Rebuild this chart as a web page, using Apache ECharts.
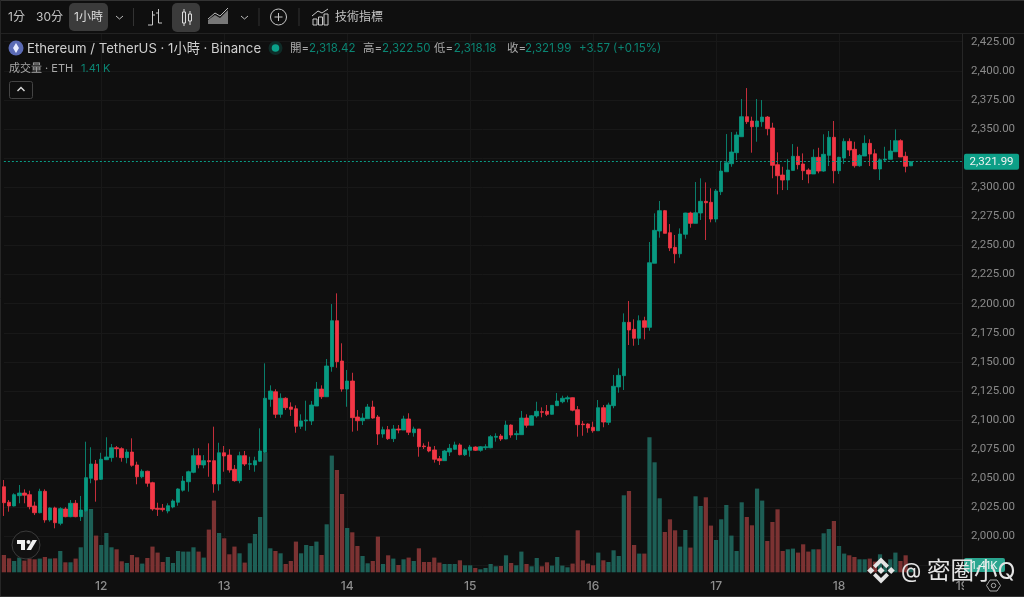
<!DOCTYPE html>
<html>
<head>
<meta charset="utf-8">
<style>html,body{margin:0;padding:0;background:#0f0f0f}#chart{width:1024px;height:597px}</style>
<script src="https://cdn.jsdelivr.net/npm/echarts@6/dist/echarts.min.js"></script>
</head>
<body>
<div id="chart"></div>
<script>
// 1小时K线，从图上读出来的估计值
var opens = [2042.8,2029.5,2026.3,2035.1,2037.4,2036,2026.3,2020.5,2038.9,2014.3,
2024.6,2011.4,2023.7,2017.1,2028.6,2017.1,2022.2,2050.1,2062.3,2049.2,
2066,2067.8,2076.3,2075.5,2067.8,2072.6,2061.5,2051.4,2056.1,2046.3,
2024.3,2024.3,2022,2025.4,2029.5,2039.8,2047.1,2055.2,2069.5,2061.5,
2065.2,2065.2,2045.2,2072,2070,2057.8,2048,2069.5,2062.1,2061.5,
2064.7,2072.6,2117.9,2124.4,2105,2118.8,2111.3,2109.8,2094.7,2099.3,
2099.3,2112.1,2126.7,2120.1,2145.9,2185.4,2150.8,2126.7,2133.6,2102.7,
2099.5,2101.2,2111.3,2102.7,2088.1,2091.8,2084.1,2092.4,2091.5,2101,
2089.2,2092.4,2077.8,2076.9,2074.4,2066.9,2065.2,2072.6,2075,2078.7,
2070.3,2074.1,2076.9,2074.1,2076.3,2076.3,2085.3,2086.4,2083.8,2095.8,
2087.5,2087.5,2101.8,2095.6,2103.6,2107.3,2107.6,2105,2112.4,2115.8,
2118.2,2119.3,2109,2096.7,2096.7,2093.9,2090.9,2110.7,2098.1,2112.4,
2128.5,2138.2,2184,2178,2170.3,2185.4,2179.7,2234.7,2262.4,2279.9,
2261,2248.4,2242.9,2259.6,2277.9,2269,2277.9,2287.9,2287.1,2272.7,
2296.2,2313.3,2320.2,2329.7,2343.4,2360.6,2356.9,2352,2356.3,2360.3,
2350.9,2319.4,2310.5,2306.2,2314.5,2326.6,2320,2314.8,2311.4,2325.7,
2313.9,2327.4,2342.9,2314.2,2325.1,2339.4,2332.6,2318.5,2326.8,2337.7,
2328.8,2315.7,2323.4,2324,2330.5,2340,2326.6,2318.42];
var closes = [2029.1,2026.3,2036,2037.4,2035.5,2025.7,2020.5,2038.9,2014.3,2024.6,
2011.9,2024,2017.1,2028.6,2017.1,2022.8,2050.6,2062.3,2048.6,2066.4,
2068.4,2076.3,2075.5,2067.8,2072.6,2061.2,2051.4,2056.1,2045.8,2023.7,
2023.4,2023.1,2026.5,2030.6,2040.9,2047.7,2055.7,2069.5,2061.7,2065.2,
2064.3,2045.2,2072,2069.2,2057.2,2048,2069.5,2062.3,2062.6,2065.2,
2073.5,2118.8,2125,2105,2118.8,2110.7,2109.3,2094.7,2099.3,2100.1,
2113,2126.7,2120.1,2146.5,2185.4,2150.2,2126.7,2133.6,2102.1,2099.5,
2101.8,2111.3,2101.8,2088.1,2091.8,2084.1,2092.4,2091.5,2101,2089.6,
2092.4,2077.2,2077.2,2073.5,2066.4,2065.2,2073.5,2075.8,2078.7,2070.3,
2074.6,2076.9,2074.1,2077.2,2077.2,2085.8,2086.1,2083.8,2095.8,2087.2,
2088.4,2101.8,2095.6,2103.8,2107.6,2106.7,2105,2112.7,2116.4,2118.8,
2119.3,2108.5,2096.1,2096.1,2093.3,2090.9,2110.7,2098.4,2113,2129.1,
2138.5,2184,2177.4,2170.3,2185.4,2179.7,2235.2,2263,2279.9,2260.4,
2247.8,2242.9,2259.8,2277.9,2269,2278.1,2287.9,2286.7,2272.7,2296.8,
2313.9,2321.1,2330.3,2344.9,2360.6,2356.3,2352,2356.9,2360.3,2350.3,
2318.8,2309.9,2306.2,2314.8,2326.6,2319.4,2314.2,2311.4,2325.7,2313.9,
2328.3,2342.9,2314.2,2325.7,2339.4,2332,2318.5,2327.4,2337.7,2328.5,
2315.7,2323.6,2324.2,2331.1,2340,2326,2318,2321.99];
var lows = [2017.7,2021.4,2026,2028.6,2028.6,2023.4,2018.5,2020,2011.9,2012.8,
2007.1,2009.7,2016.6,2016.6,2016.6,2013.4,2021.4,2045.8,2030,2048.6,
2065.8,2064.3,2068.1,2064.3,2062.9,2060,2044.9,2050.1,2042.8,2022.2,
2017.7,2021.4,2020,2024.3,2026.5,2038.6,2038.6,2054.4,2058.6,2058.6,
2051.4,2037.7,2039.4,2055.7,2054.9,2047.1,2045.8,2060.6,2057.2,2055.7,
2064.1,2071.8,2111.5,2101.8,2102.1,2108.7,2103.6,2089.2,2092.4,2090.9,
2095.8,2112.1,2118.2,2120.1,2141.6,2145,2124.4,2111.5,2090.1,2090.9,
2095.8,2101.2,2101.2,2078.7,2084.9,2083,2081.2,2088.7,2091.5,2087.2,
2085.8,2068.6,2075.2,2072.4,2063.5,2061.5,2065.2,2069.2,2074.4,2069.8,
2069.2,2068.6,2073.5,2072.9,2074.4,2075.8,2081.5,2082.1,2083.6,2084.9,
2083,2087.5,2093.5,2095.6,2102.1,2102.4,2103.6,2104.7,2112.4,2114.5,
2115.3,2107.6,2085.8,2086.6,2089.2,2089.2,2090.9,2093.9,2095.8,2110.2,
2123.6,2125.9,2164.5,2163.9,2164.5,2169.4,2176.8,2234.7,2256.7,2260.4,
2245.2,2234.7,2239.5,2255.8,2265.3,2269,2271.9,2254.7,2269.9,2269.9,
2293.3,2313.3,2317.6,2323.4,2343.4,2354.3,2329.7,2339.1,2352,2344.6,
2307.7,2293.9,2297.6,2297.6,2314.5,2315.4,2306.2,2303.4,2311.4,2312,
2313.3,2318.2,2303.4,2311.4,2320,2326.8,2316.8,2317.6,2326.8,2318.2,
2315.7,2306.2,2322.5,2324,2330.5,2326,2312.8,2318.18];
var highs = [2048.6,2031.4,2037.2,2044.3,2040.6,2039.4,2030,2041.1,2040.6,2025.2,
2025.7,2025.2,2025.2,2031.4,2031.4,2034.9,2081.5,2076.7,2065.8,2072,
2085.3,2079.5,2077.8,2076.7,2075,2084.4,2064.3,2057.8,2056.6,2047.1,
2029.1,2028,2028.6,2032,2041.5,2052,2056.6,2075.8,2075.8,2070,
2080.1,2094.4,2080.6,2077.8,2075,2061.5,2072.9,2073.5,2068.6,2068.6,
2093,2148.8,2129.9,2126.5,2123,2119.6,2115.3,2112.7,2105,2116.7,
2116.4,2132.8,2129.9,2152.5,2199.7,2208.9,2166,2143.1,2140.7,2108.7,
2105.9,2113.9,2116.7,2104.4,2094.4,2095,2095.8,2095.8,2103.8,2105.9,
2094.4,2092.4,2080.1,2081.5,2077.8,2069.2,2074.4,2079.5,2081.5,2080.1,
2075.8,2078.7,2077.5,2077.8,2079.3,2087.2,2088.7,2088.1,2099.5,2096.4,
2090.9,2107.9,2105,2104.4,2115.8,2111,2113,2113,2123.3,2121,
2121,2119.6,2112.1,2099.3,2097.3,2098.7,2117.3,2113,2115,2138.8,
2144.5,2191.7,2202.3,2186.6,2190,2188.8,2253,2277.6,2288.2,2280.5,
2268.4,2259,2264.7,2278.1,2279,2304.5,2307.7,2304.2,2299.1,2298.5,
2322.5,2345.7,2347.4,2347.7,2375.8,2385.2,2360.6,2375.8,2374.9,2361.2,
2355.4,2330,2317.6,2324.2,2337.1,2334.8,2329.1,2316.3,2332.6,2333.9,
2345.5,2348.3,2356.9,2326.2,2342,2342,2339.1,2328.5,2344.6,2341.2,
2332.6,2324.8,2334.8,2340.6,2349.7,2341.2,2330.5,2322.5];
// 成交量没有坐标轴，这里是相对高度
var volumes = [17.3,14,11.3,14.7,11.7,13.7,13,13.7,15.3,13.7,
14,21.3,10,10,13.7,25,61.7,63.3,36.7,27.3,
39.3,25,23,11,9.3,17.3,15,8.7,14.3,25.7,
19.7,10.3,15.3,9.3,21.3,20.7,20.7,25,20.7,14.7,
42.7,71.7,39.3,34,18,25.7,19,9.7,29,38.3,
55.3,120,24,21.3,19,8.3,11.3,30.7,19,27.3,
26.3,30.7,17.3,48,116.7,102.3,78.3,44.3,40,26.3,
16.3,9,11.3,35.7,8.3,17,13.7,7.3,13,14.7,
11.3,24,10.3,10.3,14.7,9.7,8.3,8.3,8.3,12,
7,7,4.3,3,4.3,8.3,6,6.3,17,9.3,
7,20.7,8.3,6,14.3,6,10,6.7,15.3,6.7,
5,8.7,42,12,8.7,7,19.7,12,10.3,22,
16.3,77,81.3,27.3,18.7,18.7,135,110,74,40.3,
53,42,25.7,42.3,24.7,76,66.3,75,46.7,32.3,
53,67.3,36.7,21.3,70,55.3,47,83.7,71.7,31.3,
50.3,63,21.3,23,23.7,19.7,28,20.7,23,23,
39,43.3,51.3,26.3,18.7,17,15.3,13,13,13.7,
10.7,18,9,13,19.7,11.3,17,4];
var dayLabels = ['12', '13', '14', '15', '16', '17', '18', '19'];
var firstDayIndex = 19;
var slotCount = 188;
var lastClose = 2321.99;
var hiddenTicks = [1975, 2325, 2450];

var upColor = '#089981';
var downColor = '#f23645';
var bg = '#0f0f0f';
var gridColor = '#181818';

// x轴类目：每天第一根K线带日期
var categories = [];
for (var i = 0; i < slotCount; i++) {
    var d = i - firstDayIndex;
    categories.push(d >= 0 && d % 24 == 0 ? dayLabels[d / 24] : '');
}
function isDay(index) {
    return categories[index] !== '';
}

var candleData = [];
var volumeData = [];
for (var j = 0; j < opens.length; j++) {
    candleData.push([opens[j], closes[j], lows[j], highs[j]]);
    volumeData.push({
        value: volumes[j],
        itemStyle: { color: closes[j] >= opens[j] ? '#1d5f56' : '#7b3232' }
    });
}

// 工具栏和图例这些界面元素
var font = 'Inter, "Noto Sans CJK TC", sans-serif';
function txt(x, y, s, color, size, align) {
    return {
        type: 'text', z: 20, x: x, y: y,
        style: { text: s, fill: color, font: size + 'px ' + font, textAlign: align || 'left', textVerticalAlign: 'middle' }
    };
}
function stroke(points, color, w) {
    return { type: 'polyline', z: 20, shape: { points: points }, style: { stroke: color || '#c8c8c8', lineWidth: w || 1, fill: null } };
}
function fillPoly(points, color) {
    return { type: 'polygon', z: 21, shape: { points: points }, style: { fill: color } };
}
function box(x, y, w, h, color, r, line) {
    return { type: 'rect', z: 20, shape: { x: x, y: y, width: w, height: h, r: r || 0 }, style: { fill: color, stroke: line || null, lineWidth: 1 } };
}
function circle(x, y, r, color, line) {
    return { type: 'circle', z: 20, shape: { cx: x, cy: y, r: r }, style: { fill: color, stroke: line || null, lineWidth: 1 } };
}
function diamond(cx, cy, r, color) {
    return fillPoly([[cx, cy - r], [cx + r, cy], [cx, cy + r], [cx - r, cy]], color);
}

var teal = '#0b8573';
var grey = '#a8a8a8';
var wm = '#e4e4e4';
var elements = [
    box(0, 0, 1024, 33, bg),
    stroke([[0, 33.5], [1024, 33.5]], '#222'),
    stroke([[0, 0.5], [1024, 0.5]], '#333'),
    stroke([[0.5, 0], [0.5, 597]], '#262626'),
    stroke([[0, 596.5], [1024, 596.5]], '#333'),
    box(964, 574, 60, 22, bg),
    // 工具栏
    txt(8, 17.5, '1分', '#c4c4c4', 12),
    txt(36, 17.5, '30分', '#c4c4c4', 12),
    box(69, 3, 39, 28, '#3b3b3b', 5),
    txt(88.5, 17.5, '1小時', '#dcdcdc', 12, 'center'),
    stroke([[116, 16], [119.5, 19], [123, 16]], '#bbb'),
    stroke([[133.5, 8], [133.5, 26]], '#333'),
    stroke([[152.5, 11], [152.5, 25], [148, 25]], '#c8c8c8'),
    stroke([[152.5, 15], [155, 15]], '#c8c8c8'),
    stroke([[158.5, 9], [158.5, 23], [162, 23]], '#c8c8c8'),
    stroke([[158.5, 13], [156, 13]], '#c8c8c8'),
    box(172, 3, 28, 29, '#3b3b3b', 5),
    box(182.5, 12, 3, 11, null, 0, '#ddd'),
    stroke([[184, 9], [184, 12]], '#ddd'),
    stroke([[184, 23], [184, 26]], '#ddd'),
    box(188.5, 14, 3, 7, null, 0, '#ddd'),
    stroke([[190, 11], [190, 14]], '#ddd'),
    stroke([[190, 21], [190, 25]], '#ddd'),
    fillPoly([[208, 24], [208, 20], [215, 15], [220, 18], [228, 10], [228, 24]], '#777'),
    stroke([[208, 19], [215, 13], [220, 16], [228, 8]], '#bbb'),
    stroke([[241, 16], [244.5, 19], [248, 16]], '#bbb'),
    stroke([[259, 8], [259, 26]], '#333'),
    circle(278.5, 17, 8, null, '#c8c8c8'),
    stroke([[278.5, 13], [278.5, 21]], '#c8c8c8'),
    stroke([[274.5, 17], [282.5, 17]], '#c8c8c8'),
    stroke([[299, 8], [299, 26]], '#333'),
    box(313, 19, 4, 6, null, 0, '#c8c8c8'),
    box(318.5, 17, 4, 8, null, 0, '#c8c8c8'),
    box(324, 14, 4, 11, null, 0, '#c8c8c8'),
    stroke([[312, 16], [318, 11], [322, 13], [328, 9]], '#c8c8c8'),
    txt(335, 17.5, '技術指標', '#c4c4c4', 12),
    // 图例
    circle(16, 48, 7.5, '#5b6bb5'),
    fillPoly([[16, 43], [19, 48], [16, 53], [13, 48]], '#e8ecff'),
    txt(27, 49, 'Ethereum / TetherUS · 1小時 · Binance', '#cfcfcf', 13.2),
    circle(275.5, 48, 7, '#0f2c28'),
    circle(275.5, 48, 3.8, '#0aa18a'),
    txt(290, 49, '開=', grey, 11.5),
    txt(309, 49, '2,318.42', teal, 11.5),
    txt(363, 49, '高=', grey, 11.5),
    txt(382, 49, '2,322.50', teal, 11.5),
    txt(434, 49, '低=', grey, 11.5),
    txt(453.7, 49, '2,318.18', teal, 11.5),
    txt(507, 49, '收=', grey, 11.5),
    txt(525, 49, '2,321.99', teal, 11.5),
    txt(579, 49, '+3.57', teal, 11.5),
    txt(613, 49, '(+0.15%)', teal, 11.5),
    txt(9, 69, '成交量 · ETH', grey, 11),
    txt(81, 69, '1.41 K', teal, 11),
    box(9.5, 81.5, 23, 17, null, 2, '#444'),
    stroke([[17.5, 91], [21, 87.5], [24.5, 91]], '#ddd', 1.4),
    // TradingView 标志
    circle(26, 545, 14, '#111', '#3a3a3a'),
    fillPoly([[17, 540], [25, 540], [25, 550], [21, 550], [21, 544], [17, 544]], '#f0f0f0'),
    circle(28.5, 542, 2, '#f0f0f0'),
    fillPoly([[32.5, 540], [37, 540], [31, 550], [26.5, 550]], '#f0f0f0'),
    // 成交量标签
    box(964, 558, 41, 14, '#2aa58f', 2),
    txt(984.5, 565.5, '1.41K', '#e8f5f2', 11, 'center'),
    // 设置图标
    stroke([[990, 580], [997, 580], [1000.5, 585.5], [997, 591], [990, 591], [986.5, 585.5], [990, 580]], '#a8a8a8'),
    circle(993.5, 585.5, 2.2, null, '#a8a8a8'),
    // 水印
    diamond(881, 570.5, 3.6, wm),
    diamond(870.8, 570.5, 3.6, wm),
    diamond(891.2, 570.5, 3.6, wm),
    fillPoly([[881, 557.5], [889, 565.5], [886.3, 568.2], [881, 562.9], [875.7, 568.2], [873, 565.5]], wm),
    fillPoly([[881, 583.5], [889, 575.5], [886.3, 572.8], [881, 578.1], [875.7, 572.8], [873, 575.5]], wm),
    txt(901, 572, '@', wm, 21),
    txt(927, 572, '密圈小Q', wm, 23.5)
];

var myChart = echarts.init(document.getElementById('chart'));
var option = {
    animation: false,
    backgroundColor: bg,
    grid: [
        { left: 3.9, width: 958.1, top: 12.6, height: 553.1 },
        { left: 3.9, width: 958.1, top: 432.3, height: 140 }
    ],
    xAxis: [
        {
            type: 'category', gridIndex: 0, data: categories, boundaryGap: false,
            axisLine: { show: false }, axisTick: { show: false }, axisLabel: { show: false },
            splitLine: { show: true, interval: isDay, lineStyle: { color: gridColor } }
        },
        {
            type: 'category', gridIndex: 1, data: categories, boundaryGap: false,
            axisLine: { show: false }, axisTick: { show: false },
            axisLabel: { interval: isDay, color: '#8e8e8e', fontFamily: font, fontSize: 12, fontWeight: 500, margin: 8, hideOverlap: false },
            splitLine: { show: true, interval: isDay, lineStyle: { color: gridColor } }
        }
    ],
    yAxis: [
        {
            type: 'value', gridIndex: 0, position: 'right', min: 1975, max: 2450, interval: 25,
            axisLine: { show: true, lineStyle: { color: '#262626' } }, axisTick: { show: false },
            axisLabel: {
                color: '#8a8a8a', fontFamily: 'Roboto', fontSize: 11.5, margin: 9, padding: [2, 0, 0, 0],
                formatter: function (v) {
                    if (hiddenTicks.indexOf(v) >= 0) return '';
                    return v.toLocaleString('en-US', { minimumFractionDigits: 2 });
                }
            },
            splitLine: { lineStyle: { color: gridColor } }
        },
        {
            type: 'value', gridIndex: 1, min: 0, max: 140,
            axisLine: { show: false }, axisTick: { show: false }, axisLabel: { show: false }, splitLine: { show: false }
        }
    ],
    series: [
        {
            type: 'bar', xAxisIndex: 1, yAxisIndex: 1, data: volumeData, barWidth: 4.2, clip: false, silent: true
        },
        {
            type: 'candlestick', xAxisIndex: 0, yAxisIndex: 0, data: candleData, barWidth: 4, clip: false, silent: true,
            itemStyle: {
                color: upColor, color0: downColor,
                borderColor: upColor, borderColor0: downColor, borderColorDoji: upColor, borderWidth: 0.8
            },
            markLine: {
                silent: true, symbol: ['none', 'none'],
                lineStyle: { color: '#0a9a83', type: [2, 2], width: 1, opacity: 1 },
                label: {
                    position: 'end', distance: 2, color: '#f2f2f2', backgroundColor: '#0d9f87', borderRadius: 2,
                    padding: [2, 5.5], fontFamily: 'Roboto', fontSize: 11.5,
                    formatter: function (p) { return p.value.toLocaleString('en-US', { minimumFractionDigits: 2 }); }
                },
                data: [{ yAxis: lastClose }]
            }
        }
    ],
    graphic: { elements: elements }
};
myChart.setOption(option);
</script>
</body>
</html>
